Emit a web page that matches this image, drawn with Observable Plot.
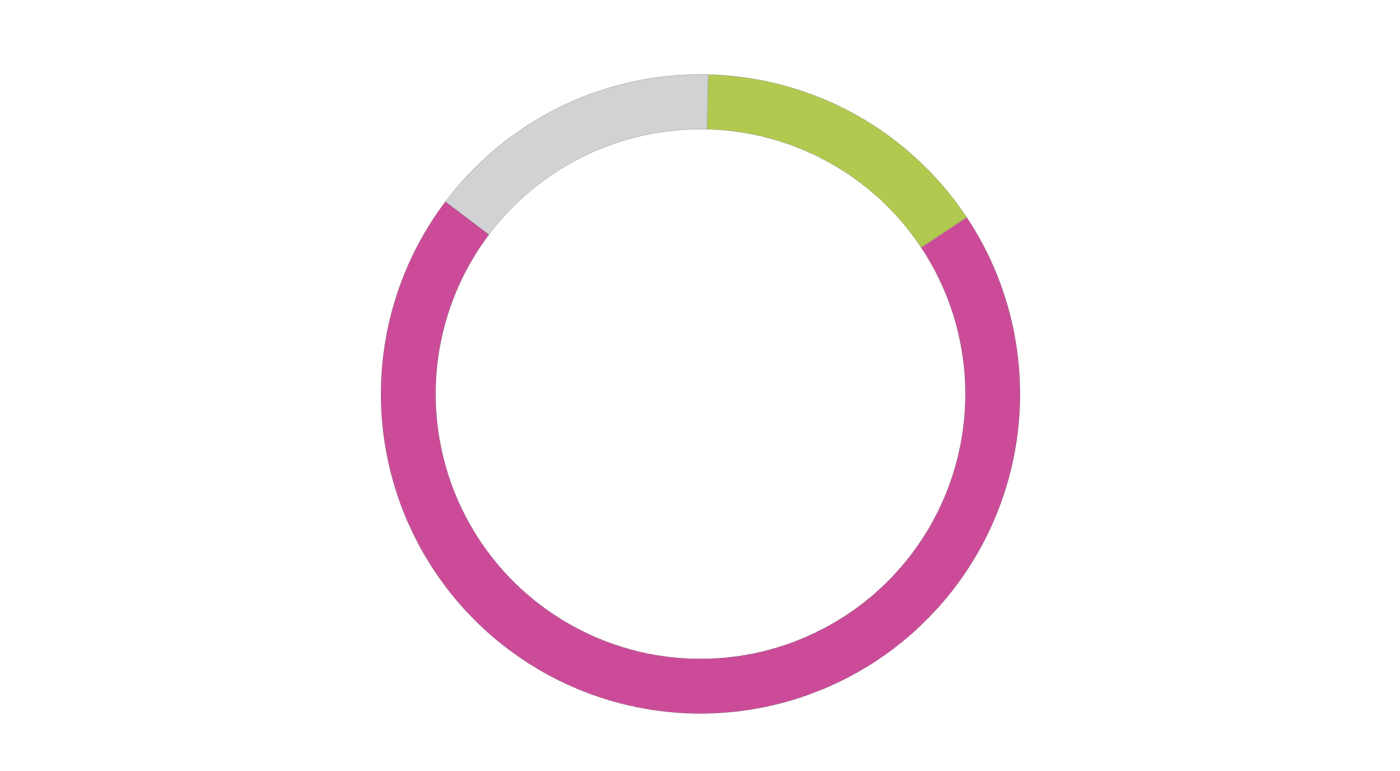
<!DOCTYPE html>
<html>
<head>
<meta charset="utf-8">
<script src="https://cdn.jsdelivr.net/npm/d3@7"></script>
<script src="https://cdn.jsdelivr.net/npm/@observablehq/plot@0.6"></script>
<style>
  html, body { margin: 0; padding: 0; background: #ffffff; }
  #chart svg { display: block; }
</style>
</head>
<body>
<div id="chart"></div>
<script>
// Data (shares of the ring, clockwise from the top)
const categories = ["Green", "Pink", "Gray"];
const values = [15.3, 69.6, 15.1];
const colors = ["#b2c94f", "#cc4b98", "#d1d2d4"];
const startAngleDeg = 1.4;     // the first slice begins just right of 12 o'clock
const innerRatio = 0.829;      // inner radius / outer radius

// Build ring slices with d3.pie, then turn them into polygons for Plot.geo
const start = startAngleDeg * Math.PI / 180;
const pie = d3.pie().sort(null).value(d => d.value)
  .startAngle(start).endAngle(start + 2 * Math.PI);
const arcs = pie(categories.map((name, i) => ({name, value: values[i]})));

function ringPolygon(a0, a1, r0, r1) {
  const n = Math.max(8, Math.ceil((a1 - a0) / (Math.PI / 720)));
  const pts = [];
  for (let k = 0; k <= n; k++) {
    const a = a0 + (a1 - a0) * k / n;
    pts.push([r1 * Math.sin(a), -r1 * Math.cos(a)]);
  }
  for (let k = n; k >= 0; k--) {
    const a = a0 + (a1 - a0) * k / n;
    pts.push([r0 * Math.sin(a), -r0 * Math.cos(a)]);
  }
  pts.push(pts[0]);
  return pts;
}

const features = arcs.map(a => ({
  type: "Feature",
  properties: {name: a.data.name},
  geometry: {type: "Polygon", coordinates: [ringPolygon(a.startAngle, a.endAngle, innerRatio, 1)]}
}));

const chart = Plot.plot({
  width: 1400,
  height: 771,
  marginTop: 74,
  marginBottom: 58,
  marginLeft: 0,
  marginRight: 0,
  projection: {
    type: "identity",
    domain: {type: "MultiPoint", coordinates: [[-1, -1], [1, 1]]}
  },
  color: {type: "ordinal", domain: categories, range: colors},
  marks: [
    Plot.geo(features, {
      fill: {value: d => d.properties.name, scale: "color"},
      stroke: "#6b6b6b",
      strokeWidth: 0.35,
      strokeOpacity: 0.7
    })
  ]
});
document.getElementById("chart").appendChild(chart);
</script>
</body>
</html>
